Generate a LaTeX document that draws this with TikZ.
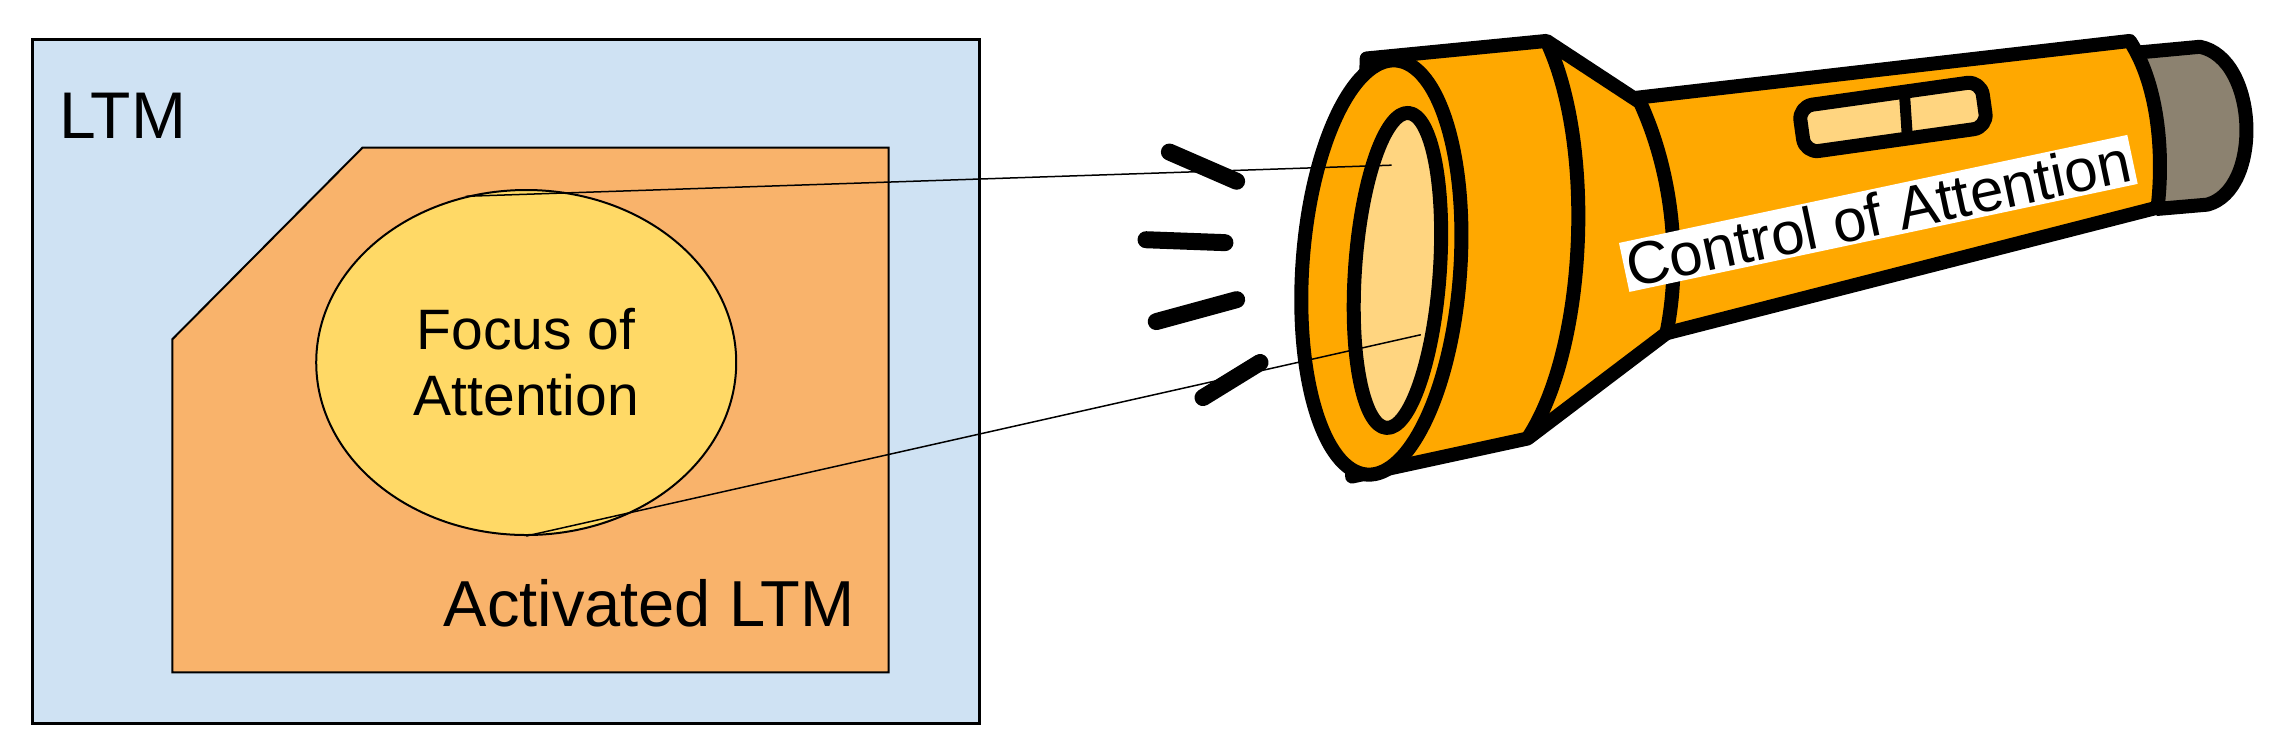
\documentclass[tikz,border=0pt]{standalone}
\usepackage{fontspec}
\setmainfont{Liberation Sans}
\usetikzlibrary{shapes.geometric}
\definecolor{ltmblue}{HTML}{CFE2F3}
\definecolor{actor}{HTML}{F9B36B}
\definecolor{focy}{HTML}{FFD966}
\definecolor{flor}{HTML}{FFA800}
\definecolor{lens}{HTML}{FFD580}
\definecolor{capg}{HTML}{8C8270}
\begin{document}
\begin{tikzpicture}[x=1.4617pt,y=-1.4617pt,
  thick outline/.style={draw=black,line width=14pt,line join=round},
  beam/.style={line width=17pt,line cap=round},
  ray/.style={line width=1.5pt}]
\useasboundingbox (0,0) rectangle (1568,516);
% LTM
\draw[fill=ltmblue,line width=3pt] (22,27) rectangle (670,495);
\node[anchor=west,font=\fontsize{66}{76}\selectfont] (ltm) at (38,79) {LTM};
\draw[fill=actor,line width=2pt] (248,101) -- (608,101) -- (608,460) -- (118,460) -- (118,232) -- cycle;
\node[font=\fontsize{65}{76}\selectfont] (act) at (444,413) {Activated LTM};
\node[draw,line width=2pt,fill=focy,ellipse,inner sep=0pt,minimum width=420pt,minimum height=345pt] (foc) at (360,248) {};
\node[align=center,font=\fontsize{57}{66}\selectfont] at (foc) {Focus of\\Attention};
% flashlight body
\fill[capg] (1462,36) -- (1505,32) .. controls (1545,40) and (1548,130) .. (1510,140) -- (1475,143) -- cycle;
\draw[thick outline] (1462,36) -- (1505,32) .. controls (1545,40) and (1548,130) .. (1510,140) -- (1475,143);
\draw[thick outline,fill=flor] (1110,68) -- (1457,28) .. controls (1478,60) and (1480,110) .. (1476,142) -- (1140,228) -- cycle;
\draw[thick outline,fill=lens,rounded corners=14pt,rotate around={8:(1295,80)}] (1232,64) rectangle (1358,96);
\draw[line width=11pt] (1303,66) -- (1305,96);
% head
\draw[thick outline,fill=flor] (935,40) -- (1058,28) -- (1122,70) .. controls (1145,120) and (1150,180) .. (1140,228) -- (1045,300) -- (925,326) -- cycle;
\draw[thick outline] (1058,28) .. controls (1092,100) and (1085,240) .. (1045,300);
% rim
\draw[thick outline,fill=flor,rotate around={-4:(945,183)}] (945,183) ellipse (54 and 142);
\draw[thick outline,fill=lens,rotate around={-4:(956,185)}] (956,185) ellipse (29 and 108);
% beams
\draw[beam] (800,104) -- (846,124);
\draw[beam] (784,164) -- (838,166);
\draw[beam] (791,220) -- (846,205);
\draw[beam] (823,272) -- (862,248);
% label
\node[fill=white,rotate=12,inner xsep=3pt,inner ysep=3pt,font=\fontsize{60}{66}\selectfont] (ctl) at (1285,146) {Control of Attention};
% rays
\coordinate (r1) at (952,113);
\coordinate (r2) at (972,229);
\draw[ray] (foc.110) -- (r1);
\draw[ray] (foc.-90) -- (r2);
\end{tikzpicture}
\end{document}
